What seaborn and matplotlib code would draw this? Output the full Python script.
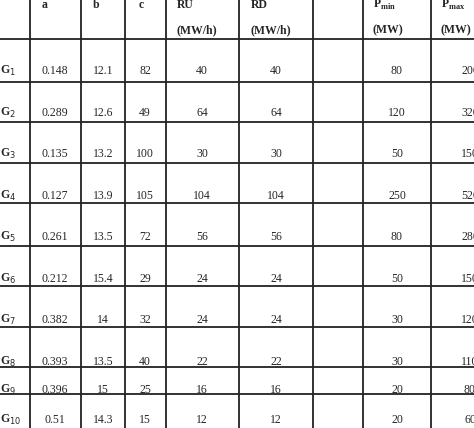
import matplotlib
matplotlib.use('Agg')
import matplotlib.pyplot as plt
import seaborn as sns

sns.set_theme(style='white')
plt.rcParams['font.family'] = ['Liberation Serif', 'DejaVu Serif']

# table data
units = ['G$_{1}$', 'G$_{2}$', 'G$_{3}$', 'G$_{4}$', 'G$_{5}$',
         'G$_{6}$', 'G$_{7}$', 'G$_{8}$', 'G$_{9}$', 'G$_{10}$']
a = ['0.148', '0.289', '0.135', '0.127', '0.261', '0.212', '0.382', '0.393', '0.396', '0.51']
b = ['12.1', '12.6', '13.2', '13.9', '13.5', '15.4', '14', '13.5', '15', '14.3']
c = [82, 49, 100, 105, 72, 29, 32, 40, 25, 15]
ru = [40, 64, 30, 104, 56, 24, 24, 22, 16, 12]
rd = [40, 64, 30, 104, 56, 24, 24, 22, 16, 12]
pmin = [80, 120, 50, 250, 80, 50, 30, 30, 20, 20]
pmax = [200, 320, 150, 520, 280, 150, 120, 110, 80, 60]
headers = ['a', 'b', 'c', 'RU', 'RD', '', 'P$_{\\mathregular{min}}$', 'P$_{\\mathregular{max}}$']
units_row = ['', '', '', '(MW/h)', '(MW/h)', '', '(MW)', '(MW)']

# layout (pixels)
vlines = [30, 81, 125, 166, 239, 313, 363, 431]
hlines = [39, 82, 122, 163, 203, 246, 286, 327, 367, 394]
row_y = [71, 113, 154, 196, 237, 279, 320, 362, 390, 420]
col_x = [55, 103, 145, 202, 276, 338, 397, 470]
head_x = [42, 93, 139, 177, 251, 0, 373, 441]

fig = plt.figure(figsize=(4.74, 4.28), dpi=100)
ax = fig.add_axes([0, 0, 1, 1])
ax.set_xlim(0, 474)
ax.set_ylim(428, 0)
ax.axis('off')

for x in vlines:
    ax.axvline(x, color='#222222', lw=1.3)
for y in hlines:
    ax.axhline(y, color='#222222', lw=1.3)

for h, u, x in zip(headers, units_row, head_x):
    if h:
        ax.text(x, 5, h, fontsize=8.5, fontweight='bold', va='center', ha='left')
    if u:
        ax.text(x, 30, u, fontsize=8.5, fontweight='bold', va='center', ha='left')

columns = [a, b, c, ru, rd, None, pmin, pmax]
for i, y in enumerate(row_y):
    ax.text(0, y, units[i], fontsize=8.5, fontweight='bold', va='center', ha='left')
    for col, x in zip(columns, col_x):
        if col is None:
            continue
        ax.text(x, y, str(col[i]), fontsize=8.5, va='center', ha='center', clip_on=True)

fig.savefig('out.png', dpi=100)
